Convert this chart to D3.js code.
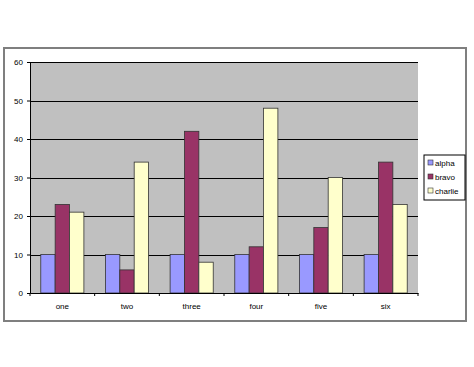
<!DOCTYPE html>
<html>
<head>
<meta charset="utf-8">
<script src="https://cdn.jsdelivr.net/npm/d3@7"></script>
<style>
  body { margin: 0; background: #fff; }
  text { font-family: "Liberation Sans", Arial, sans-serif; }
</style>
</head>
<body>
<div id="chart"></div>
<script>
const categories = ["one", "two", "three", "four", "five", "six"];
const seriesNames = ["alpha", "bravo", "charlie"];
const alpha = [10, 10, 10, 10, 10, 10];
const bravo = [23, 6, 42, 12, 17, 34];
const charlie = [21, 34, 8, 48, 30, 23];
const yTicks = [0, 10, 20, 30, 40, 50, 60];
const colors = ["#9999ff", "#993366", "#ffffcc"];

const W = 474, H = 367;
const plot = { left: 30, top: 62, right: 418, bottom: 293 };

const svg = d3.select("#chart").append("svg")
  .attr("width", W).attr("height", H);

// outer chart frame
svg.append("rect")
  .attr("x", 4).attr("y", 48).attr("width", 462).attr("height", 273)
  .attr("fill", "#fff").attr("stroke", "#7f7f7f").attr("stroke-width", 2);

const x = d3.scaleBand().domain(categories).range([plot.left, plot.right]);
const y = d3.scaleLinear().domain([0, 60]).range([plot.bottom, plot.top]);

// plot area
svg.append("rect")
  .attr("x", plot.left).attr("y", plot.top)
  .attr("width", plot.right - plot.left).attr("height", plot.bottom - plot.top)
  .attr("fill", "#c0c0c0");

// gridlines
svg.append("g").selectAll("line")
  .data(yTicks.filter(d => d > 0))
  .join("line")
  .attr("x1", plot.left).attr("x2", plot.right)
  .attr("y1", d => Math.round(y(d)) + 0.5).attr("y2", d => Math.round(y(d)) + 0.5)
  .attr("stroke", "#000").attr("stroke-width", 1);

// bars
const data = categories.map((c, i) => ({ cat: c, values: [alpha[i], bravo[i], charlie[i]] }));
const barW = x.bandwidth() / 4.5;
const inner = d3.scaleBand().domain(seriesNames)
  .range([x.bandwidth() * 0.75 / 4.5, x.bandwidth() * 0.75 / 4.5 + barW * 3]);

svg.append("g").selectAll("g")
  .data(data)
  .join("g")
  .attr("transform", d => `translate(${x(d.cat)},0)`)
  .selectAll("rect")
  .data(d => d.values.map((v, j) => ({ name: seriesNames[j], v, j })))
  .join("rect")
  .attr("x", d => inner(d.name))
  .attr("y", d => y(d.v))
  .attr("width", inner.bandwidth())
  .attr("height", d => y(0) - y(d.v))
  .attr("fill", d => colors[d.j])
  .attr("stroke", "#333")
  .attr("stroke-width", 0.8);

// axes
const yAxis = svg.append("g")
  .attr("transform", `translate(${plot.left},0)`)
  .call(d3.axisLeft(y).tickValues(yTicks).tickSize(3).tickPadding(4));
const xAxis = svg.append("g")
  .attr("transform", `translate(0,${plot.bottom})`)
  .call(d3.axisBottom(x).tickSize(0).tickPadding(10));
// category boundary ticks
svg.append("g").selectAll("line")
  .data(categories.concat(["end"]))
  .join("line")
  .attr("x1", (d, i) => plot.left + i * x.bandwidth())
  .attr("x2", (d, i) => plot.left + i * x.bandwidth())
  .attr("y1", plot.bottom).attr("y2", plot.bottom + 3)
  .attr("stroke", "#000");

[yAxis, xAxis].forEach(a => {
  a.select(".domain").attr("stroke", "#000");
  a.selectAll("text").attr("font-size", 8).attr("fill", "#000")
    .style("font-family", "'Liberation Sans', Arial, sans-serif");
});

// legend
const legend = svg.append("g").attr("transform", "translate(424,155)");
legend.append("rect")
  .attr("width", 41).attr("height", 45)
  .attr("fill", "#fff").attr("stroke", "#000").attr("stroke-width", 1);
const item = legend.selectAll("g.item")
  .data(seriesNames)
  .join("g")
  .attr("class", "item")
  .attr("transform", (d, i) => `translate(4,${8 + i * 14})`);
item.append("rect")
  .attr("x", 0).attr("y", -3).attr("width", 5).attr("height", 5)
  .attr("fill", (d, i) => colors[i]).attr("stroke", "#333").attr("stroke-width", 0.6);
item.append("text")
  .attr("x", 7).attr("y", 0).attr("dy", "0.32em")
  .attr("font-size", 8).attr("fill", "#000")
  .text(d => d);
</script>
</body>
</html>
